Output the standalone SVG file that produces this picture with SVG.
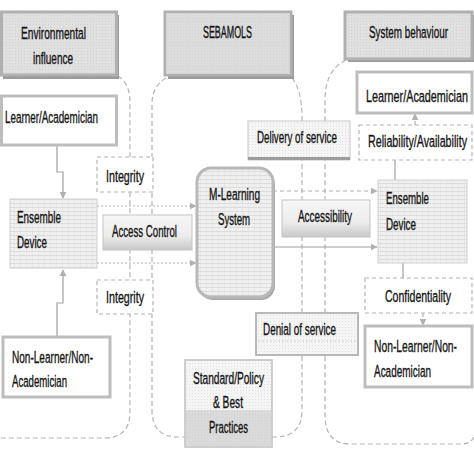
<svg xmlns="http://www.w3.org/2000/svg" width="474" height="474" viewBox="0 0 474 474">
<style>
text{font-family:"Liberation Sans",Arial,sans-serif;font-size:16.5px;fill:#151515;stroke:#151515;stroke-width:0.35}
.bound{fill:none;stroke:#b4b4b4;stroke-width:1.2;stroke-dasharray:5 3}
.hdr{fill:url(#dots);stroke:#b0b0b0;stroke-width:3}
.plain{fill:#fff;stroke:#bdbdbd;stroke-width:3}
.dash{fill:#fff;stroke:#b4b4b4;stroke-width:1.2;stroke-dasharray:4 3}
.ens{fill:url(#brick);stroke:#cfcfcf;stroke-width:1}
.lbl{fill:url(#grad);stroke:#c4c4c4;stroke-width:1}
.shadow{fill:#9a9a9a}
.conn{fill:none;stroke:#a0a0a0;stroke-width:1.2}
.dotc{fill:none;stroke:#b0b0b0;stroke-width:1.2;stroke-dasharray:2 2}
.dashc{fill:none;stroke:#b0b0b0;stroke-width:1.2;stroke-dasharray:4 3}
</style>
<defs>
<pattern id="dots" width="3" height="3" patternUnits="userSpaceOnUse">
<rect width="3" height="3" fill="#e0e0e0"/>
<rect width="1" height="1" fill="#d0d0d0"/>
</pattern>
<pattern id="ldots" width="3" height="3" patternUnits="userSpaceOnUse">
<rect width="3" height="3" fill="#f5f5f5"/>
<rect width="1" height="1" fill="#e0e0e0"/>
</pattern>
<pattern id="brick" width="6" height="4" patternUnits="userSpaceOnUse">
<rect width="6" height="4" fill="#f0f0f0"/>
<rect y="3" width="6" height="1" fill="#dcdcdc"/>
<rect x="2" width="1" height="3" fill="#e8e8e8"/>
</pattern>
<linearGradient id="grad" x1="0" y1="0" x2="0" y2="1">
<stop offset="0" stop-color="#f6f6f6"/>
<stop offset="0.6" stop-color="#ececec"/>
<stop offset="1" stop-color="#c8c8c8"/>
</linearGradient>
<marker id="arr" viewBox="0 0 10 10" refX="9" refY="5" markerWidth="6" markerHeight="6" orient="auto">
<path d="M0,0 L10,5 L0,10 z" fill="#b0b0b0"/>
</marker>
</defs>

<g id="boundaries">
<path class="bound" d="M118,76 Q130,84 130,102 V412 Q130,438 104,438 H0"/>
<path class="bound" d="M166,78 Q152,86 152,104 V410 Q152,437 178,437 H186"/>
<path class="bound" d="M292,78 Q302,90 302,118 V410 Q302,437 275,437 H272"/>
<path class="bound" d="M346,60 Q325,70 325,100 V415 Q325,444 350,444 H462 Q474,444 476,430"/>
</g>

<g id="connectors">
<path class="conn" d="M57,145 V172 H63 V198" marker-end="url(#arr)"/>
<path class="conn" d="M57,337 V303 H63 V270" marker-end="url(#arr)"/>
<path class="dotc" d="M97,206 H196" marker-end="url(#arr)"/>
<path class="dotc" d="M97,263 H196" marker-end="url(#arr)"/>
<path class="dashc" d="M273,191 H377" marker-end="url(#arr)"/>
<path class="conn" d="M273,247 H377" marker-end="url(#arr)"/>
<path class="conn" d="M395,160 V180"/>
<path class="dashc" d="M415,125 V114" marker-end="url(#arr)"/>
<path class="conn" d="M403,263 V278"/>
<path class="dashc" d="M423,313 V325" marker-end="url(#arr)"/>
</g>

<g id="env">
<rect x="3" y="15" width="116" height="64" class="shadow"/>
<rect x="1.5" y="12" width="115" height="63" class="hdr"/>
<text transform="translate(21,39) scale(0.68,1)" textLength="95.6" lengthAdjust="spacingAndGlyphs">Environmental</text>
<text transform="translate(33,64) scale(0.68,1)" textLength="58.8" lengthAdjust="spacingAndGlyphs">influence</text>
</g>

<g id="sebamols">
<rect x="168" y="15" width="126" height="64" class="shadow"/>
<rect x="165" y="12" width="126" height="63" class="hdr" style="fill:#d6d6d6"/>
<rect x="166" y="13" width="124" height="61" fill="url(#dots)" opacity="0.6"/>
<text transform="translate(203,38) scale(0.68,1)" textLength="72" lengthAdjust="spacingAndGlyphs">SEBAMOLS</text>
</g>

<g id="sysbeh">
<rect x="348" y="15" width="126" height="47" class="shadow"/>
<rect x="345" y="12" width="127" height="47" class="hdr"/>
<text transform="translate(369,38) scale(0.68,1)" textLength="116.2" lengthAdjust="spacingAndGlyphs">System behaviour</text>
</g>

<g id="learnerL">
<rect x="1.5" y="96" width="115" height="49" class="plain"/>
<text transform="translate(5,123) scale(0.68,1)" textLength="136.8" lengthAdjust="spacingAndGlyphs">Learner/Academician</text>
</g>

<g id="ensembleL">
<rect x="10" y="199" width="87" height="69" class="ens"/>
<text transform="translate(17,223) scale(0.68,1)" textLength="64.7" lengthAdjust="spacingAndGlyphs">Ensemble</text>
<text transform="translate(17,248) scale(0.68,1)" textLength="44.1" lengthAdjust="spacingAndGlyphs">Device</text>
</g>

<g id="nonlearnerL">
<rect x="3" y="337" width="107" height="60" class="plain"/>
<text transform="translate(12,363) scale(0.68,1)" textLength="119.1" lengthAdjust="spacingAndGlyphs">Non-Learner/Non-</text>
<text transform="translate(12,387) scale(0.68,1)" textLength="80.9" lengthAdjust="spacingAndGlyphs">Academician</text>
</g>

<g id="integrityT">
<rect x="97" y="157" width="56" height="35" class="dash"/>
<text transform="translate(106,182) scale(0.68,1)" textLength="55.9" lengthAdjust="spacingAndGlyphs">Integrity</text>
</g>

<g id="access">
<rect x="103" y="215" width="89" height="35" class="lbl"/>
<text transform="translate(112,237) scale(0.68,1)" textLength="95.6" lengthAdjust="spacingAndGlyphs">Access Control</text>
</g>

<g id="integrityB">
<rect x="97" y="280" width="56" height="34" class="dash"/>
<text transform="translate(106,303) scale(0.68,1)" textLength="55.9" lengthAdjust="spacingAndGlyphs">Integrity</text>
</g>

<g id="mlearning">
<rect x="199" y="171" width="76" height="129" rx="14" fill="#a8a8a8"/>
<rect x="197" y="168" width="76" height="129" rx="14" fill="url(#brick)" stroke="#b8b8b8" stroke-width="3"/>
<text transform="translate(209,200) scale(0.68,1)" textLength="75" lengthAdjust="spacingAndGlyphs">M-Learning</text>
<text transform="translate(218,225) scale(0.68,1)" textLength="47.1" lengthAdjust="spacingAndGlyphs">System</text>
</g>

<g id="delivery">
<rect x="248" y="121" width="102" height="39" fill="url(#ldots)" stroke="#c8c8c8" stroke-width="1"/>
<rect x="248" y="157" width="102" height="3" fill="#9c9c9c"/>
<text transform="translate(257,143) scale(0.68,1)" textLength="117.6" lengthAdjust="spacingAndGlyphs">Delivery of service</text>
</g>

<g id="accessibility">
<rect x="282" y="200" width="88" height="37" class="lbl"/>
<text transform="translate(298,222) scale(0.68,1)" textLength="79.4" lengthAdjust="spacingAndGlyphs">Accessibility</text>
</g>

<g id="denial">
<rect x="256" y="313" width="102" height="42" fill="url(#ldots)" stroke="#b8b8b8" stroke-width="2"/>
<line x1="258" y1="341" x2="356" y2="341" stroke="#d4d4d4" stroke-dasharray="2 2"/>
<text transform="translate(263,335) scale(0.68,1)" textLength="107.4" lengthAdjust="spacingAndGlyphs">Denial of service</text>
</g>

<g id="standard">
<rect x="185" y="360" width="87" height="87" fill="url(#ldots)" stroke="#c0c0c0" stroke-width="1.5"/>
<rect x="186" y="410" width="85" height="36" fill="#d4d4d4"/>
<rect x="186" y="410" width="85" height="36" fill="url(#dots)" opacity="0.5"/>
<text transform="translate(193,384) scale(0.68,1)" textLength="104.4" lengthAdjust="spacingAndGlyphs">Standard/Policy</text>
<text transform="translate(213,408) scale(0.68,1)" textLength="44.1" lengthAdjust="spacingAndGlyphs">&amp; Best</text>
<text transform="translate(209,433) scale(0.68,1)" textLength="57.4" lengthAdjust="spacingAndGlyphs">Practices</text>
</g>

<g id="learnerR">
<rect x="357" y="72" width="115" height="41" class="plain"/>
<text transform="translate(366,102) scale(0.68,1)" textLength="150" lengthAdjust="spacingAndGlyphs">Learner/Academician</text>
</g>

<g id="reliability">
<rect x="359" y="125" width="113" height="35" class="dash"/>
<text transform="translate(368,147) scale(0.68,1)" textLength="145.6" lengthAdjust="spacingAndGlyphs">Reliability/Availability</text>
</g>

<g id="ensembleR">
<rect x="378" y="180" width="89" height="83" class="ens"/>
<text transform="translate(386,204) scale(0.68,1)" textLength="63.2" lengthAdjust="spacingAndGlyphs">Ensemble</text>
<text transform="translate(386,230) scale(0.68,1)" textLength="44.1" lengthAdjust="spacingAndGlyphs">Device</text>
</g>

<g id="confidentiality">
<rect x="365" y="278" width="107" height="35" class="dash"/>
<text transform="translate(385,302) scale(0.68,1)" textLength="97.1" lengthAdjust="spacingAndGlyphs">Confidentiality</text>
</g>

<g id="nonlearnerR">
<rect x="365" y="326" width="107" height="61" class="plain"/>
<text transform="translate(374,352) scale(0.68,1)" textLength="122.1" lengthAdjust="spacingAndGlyphs">Non-Learner/Non-</text>
<text transform="translate(374,377) scale(0.68,1)" textLength="83.8" lengthAdjust="spacingAndGlyphs">Academician</text>
</g>
</svg>
